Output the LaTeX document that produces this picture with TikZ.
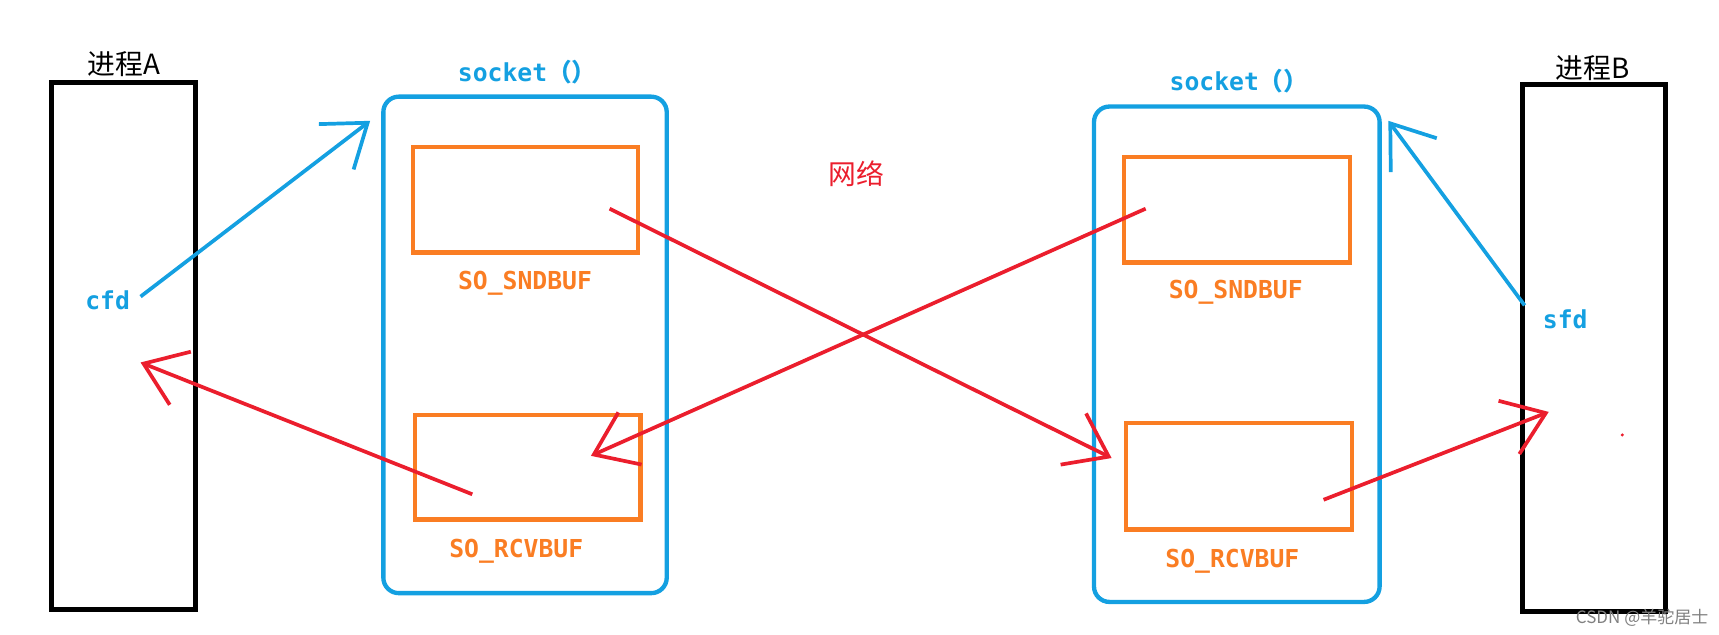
\documentclass[tikz,border=0pt]{standalone}
\usepackage{fontspec}
\setmainfont{Liberation Sans}
\newfontfamily\cjk{Noto Sans CJK SC}
\newfontfamily\mono{DejaVu Sans Mono}
\usetikzlibrary{arrows.meta}
\definecolor{cb}{RGB}{20,160,225}
\definecolor{co}{RGB}{250,125,35}
\definecolor{cr}{RGB}{235,30,45}
\begin{document}
\begin{tikzpicture}[x=0.025cm,y=-0.025cm,
  proc/.style={draw=black,line width=3.2pt},
  sock/.style={draw=cb,line width=2.8pt,rounded corners=10pt},
  buf/.style={draw=co,line width=2.8pt},
  blab/.style={text=cb,font=\mono\bfseries\fontsize{16}{18}\selectfont},
  olab/.style={text=co,font=\mono\bfseries\fontsize{16}{18}\selectfont},
  ra/.style={draw=cr,line width=2.4pt,-{Straight Barb[length=9mm,width=13mm,line width=2.4pt]}},
  ba/.style={draw=cb,line width=2.4pt,-{Straight Barb[length=9mm,width=13mm,line width=2.4pt]}}]
\useasboundingbox (0,0) rectangle (1565,578);
\draw[proc] (47,75) rectangle (178,555);
\draw[proc] (1386,77) rectangle (1516,557);
\node[font=\cjk\fontsize{18}{20}\selectfont] (pa) at (113,58) {进程A};
\node[font=\cjk\fontsize{18}{20}\selectfont] (pb) at (1450,62) {进程B};
\draw[sock] (349,88) rectangle (607,540);
\draw[sock] (996,97) rectangle (1256,548);
\node[blab] (s1) at (480,66) {socket{\cjk（）}};
\node[blab] (s2) at (1128,74) {socket{\cjk（）}};
\draw[buf] (376,134) rectangle (581,230);
\draw[buf] (378,378) rectangle (583,473);
\draw[buf] (1023,143) rectangle (1229,239);
\draw[buf] (1025,385) rectangle (1231,482);
\node[olab] (l1) at (478,258) {SO\_SNDBUF};
\node[olab] (l2) at (470,502) {SO\_RCVBUF};
\node[olab] (l3) at (1125,266) {SO\_SNDBUF};
\node[olab] (l4) at (1122,511) {SO\_RCVBUF};
\node[text=cr,font=\cjk\fontsize{18}{20}\selectfont] (net) at (780,158) {网络};
\node[blab,fill=white,inner sep=1pt] (cfd) at (98,273) {cfd};
\node[blab,fill=white,inner sep=1pt] (sfd) at (1425,291) {sfd};
\coordinate (ta) at (337,110);
\coordinate (tb) at (1264,110);
\draw[ba] (128,270) -- (ta);
\draw[ba] (1388,278) -- (tb);
\coordinate (a1) at (555,190); \coordinate (b1) at (1012,417);
\coordinate (a2) at (1043,190); \coordinate (b2) at (538,415);
\coordinate (a3) at (430,450); \coordinate (b3) at (128,330);
\coordinate (a4) at (1205,455); \coordinate (b4) at (1410,375);
\draw[ra] (a1) -- (b1);
\draw[ra] (a2) -- (b2);
\draw[ra] (a3) -- (b3);
\draw[ra] (a4) -- (b4);
\fill[cr] (1477,396) circle (1.5);
\node[text=gray,font=\cjk\fontsize{11}{12}\selectfont] (wm) at (1495,562) {CSDN @羊驼居士};
\end{tikzpicture}
\end{document}
